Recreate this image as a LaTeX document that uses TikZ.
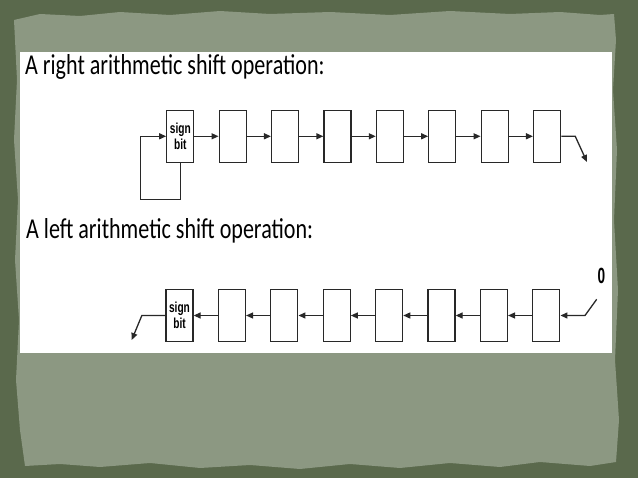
\documentclass[tikz,border=0pt]{standalone}
\usepackage{fontspec}
\setmainfont{Carlito}
\newfontfamily\narrowfont{Liberation Sans}
\usetikzlibrary{arrows.meta}
\definecolor{slate}{RGB}{90,105,76}
\definecolor{paper}{RGB}{140,152,130}
\definecolor{ink}{RGB}{40,40,40}

\begin{document}
\begin{tikzpicture}[x=1pt,y=-1pt,
    cell/.style={draw=ink,line width=1.3pt,fill=white,minimum width=27pt,minimum height=52pt,inner sep=0pt},
    arr/.style={draw=ink,line width=1.3pt,-{Triangle[length=7pt,width=6pt]}},
    heading/.style={anchor=base west,inner sep=0pt,font=\fontsize{24}{24}\selectfont}]
  \useasboundingbox (0,0) rectangle (638,478);
  % backdrop and paper
  \fill[slate] (0,0) rectangle (638,478);
  \fill[paper] (14,20) -- (40,14) -- (80,16) -- (120,12) -- (170,15) -- (220,11) -- (270,14)
    -- (330,12) -- (390,15) -- (450,11) -- (510,14) -- (560,12) -- (600,15) -- (614,14)
    -- (616,40) -- (613,90) -- (617,150) -- (614,220) -- (618,290) -- (615,360) -- (619,420)
    -- (616,462) -- (590,466) -- (540,462) -- (500,467) -- (450,463) -- (400,468) -- (350,464)
    -- (300,469) -- (250,465) -- (200,468) -- (150,463) -- (100,467) -- (60,464) -- (25,466)
    -- (20,430) -- (16,380) -- (19,320) -- (15,260) -- (18,200) -- (14,140) -- (17,80) -- cycle;
  \fill[white] (20,52) rectangle (612,353);
  \node[heading] (title1) at (25,75) {\scalebox{0.92}[1.2]{A right arithmetic shift operation:}};
  \node[heading] (title2) at (26,238.5) {\scalebox{0.92}[1.2]{A left arithmetic shift operation:}};
  % right shift row
  \node[cell] (r0) at (180.3,136.3) {\narrowfont\bfseries\fontsize{14.5}{15.7}\selectfont
    \raisebox{-2pt}{\shortstack{\scalebox{0.7}[1]{sign}\\\scalebox{0.7}[1]{bit}}}};
  \foreach \i in {1,...,7}
    \node[cell] (r\i) at (180.3+52.4*\i,136.3) {};
  \foreach \i [evaluate=\i as \j using int(\i+1)] in {0,...,6}
    \draw[arr] (r\i.east) -- (r\j.west);
  \coordinate (loop) at (140.7,199.3);
  \draw[arr] (r0.south) |- (loop) |- (r0.west);
  \coordinate (rout) at (587,162);
  \draw[arr] (r7.east) -- ++(14,0) -- (rout);
  % left shift row
  \node[cell] (l0) at (179.5,315.5) {\narrowfont\bfseries\fontsize{14.5}{15.7}\selectfont
    \raisebox{-2pt}{\shortstack{\scalebox{0.7}[1]{sign}\\\scalebox{0.7}[1]{bit}}}};
  \foreach \i in {1,...,7}
    \node[cell] (l\i) at (179.5+52.4*\i,315.5) {};
  \foreach \i [evaluate=\i as \j using int(\i+1)] in {0,...,6}
    \draw[arr] (l\j.west) -- (l\i.east);
  \coordinate (lout) at (131.7,340);
  \draw[arr] (l0.west) -- ++(-23.5,0) -- (lout);
  \coordinate (lin) at (596.7,299.3);
  \draw[arr] (lin) -- ++(-11.7,16.2) -- (l7.east);
  \node[inner sep=0pt,font=\narrowfont\bfseries\fontsize{22}{22}\selectfont] (zero) at (601.3,276.3) {\scalebox{0.62}[1]{0}};
\end{tikzpicture}
\end{document}
